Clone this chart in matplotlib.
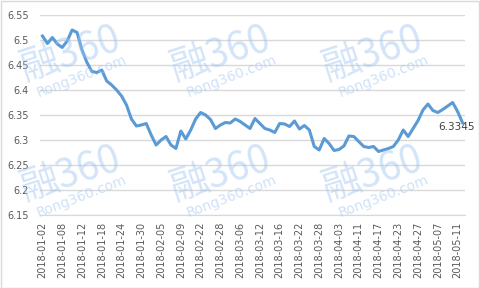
import numpy as np
import pandas as pd
import matplotlib
matplotlib.use("Agg")
import matplotlib.pyplot as plt

# trading days 2018-01-02 .. 2018-05-14 (China holidays removed)
holidays = ["2018-02-15", "2018-02-16", "2018-02-19", "2018-02-20", "2018-02-21",
            "2018-04-05", "2018-04-06", "2018-04-30", "2018-05-01"]
days = pd.bdate_range("2018-01-02", "2018-05-14")
days = days[~days.isin(pd.to_datetime(holidays))]
labels = [d.strftime("%Y-%m-%d") for d in days]

rate = [6.508, 6.493, 6.505, 6.492, 6.485, 6.498, 6.520, 6.515, 6.480, 6.455,
        6.437, 6.435, 6.440, 6.418, 6.410, 6.400, 6.388, 6.370, 6.342, 6.328,
        6.330, 6.333, 6.310, 6.290, 6.300, 6.307, 6.290, 6.283, 6.318, 6.302,
        6.320, 6.342, 6.355, 6.350, 6.341, 6.323, 6.330, 6.335, 6.334, 6.342,
        6.337, 6.330, 6.323, 6.343, 6.333, 6.323, 6.320, 6.315, 6.333, 6.332,
        6.327, 6.338, 6.322, 6.329, 6.320, 6.287, 6.280, 6.303, 6.293, 6.279,
        6.281, 6.288, 6.308, 6.307, 6.297, 6.287, 6.285, 6.287, 6.277, 6.280,
        6.283, 6.287, 6.300, 6.320, 6.307, 6.323, 6.339, 6.360, 6.372, 6.359,
        6.355, 6.361, 6.368, 6.375, 6.357, 6.3345]

W, H = 480, 288
fig = plt.figure(figsize=(4.8, 2.88), dpi=100)
fig.patch.set_facecolor("white")

# chart border
fig.add_artist(plt.Rectangle((0.5 / W, 0.5 / H), 1 - 1.5 / W, 1 - 1.5 / H,
                             transform=fig.transFigure, fill=False,
                             edgecolor="#d9d9d9", lw=1))

ax = fig.add_axes([40 / W, (H - 215) / H, 425 / W, 200 / H])
x = np.arange(len(rate))
ax.plot(x, rate, color="#5b9bd5", lw=2.2, solid_joinstyle="round", zorder=3)

ax.set_xlim(-0.5, len(rate) - 0.5)
ax.set_ylim(6.15, 6.55)
yt = np.arange(6.15, 6.5501, 0.05)
ax.set_yticks(yt)
ax.set_yticklabels([f"{v:.2f}".rstrip("0") for v in yt])
ax.grid(axis="y", color="#d9d9d9", lw=1)
ax.set_axisbelow(True)

ax.set_xticks(x[::4])
ax.set_xticklabels(labels[::4], rotation=90)
ax.tick_params(axis="both", length=0, labelsize=7, colors="#595959", pad=5)
ax.tick_params(axis="y", pad=8)
for s in ["top", "right", "left"]:
    ax.spines[s].set_visible(False)
ax.spines["bottom"].set_color("#d9d9d9")
ax.patch.set_alpha(0)

ax.annotate(f"{rate[-1]}", xy=(x[-1], rate[-1]), xytext=(-6, -4),
            textcoords="offset pixels", ha="center", va="center",
            fontsize=7.5, color="#404040", zorder=4)

# watermark tiles
for ty in [80, 200]:
    for tx in [25, 175, 327]:
        fig.text(tx / W, 1 - ty / H, "融360", rotation=18, rotation_mode="anchor",
                 ha="left", va="baseline", fontsize=28, color="#9ec4f0", alpha=0.45,
                 family=["Noto Sans CJK SC", "DejaVu Sans"], zorder=0)
        fig.text((tx + 14) / W, 1 - (ty + 17) / H, "Rong360.com", rotation=21,
                 rotation_mode="anchor", ha="left", va="baseline", fontsize=10,
                 color="#9ec4f0", alpha=0.5, zorder=0)

fig.savefig("out.png", dpi=100)
